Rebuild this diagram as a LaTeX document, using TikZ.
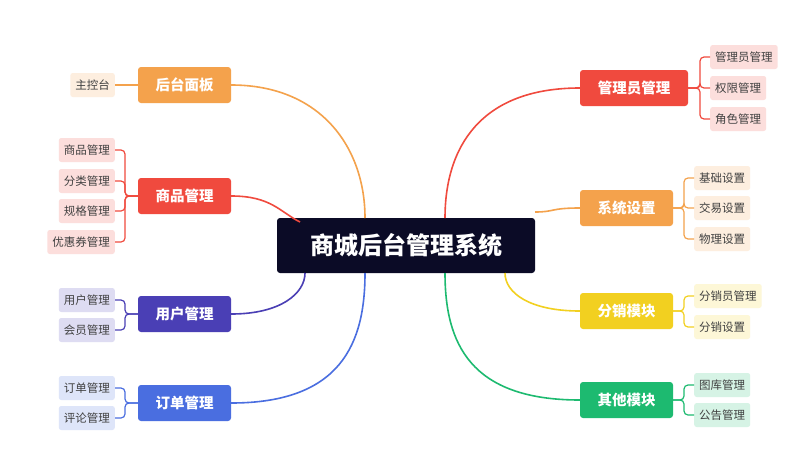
\documentclass[tikz,border=0pt]{standalone}
\usepackage{fontspec}
\newfontfamily\cjk{Noto Sans CJK SC}
\usetikzlibrary{calc}
\definecolor{cOr}{HTML}{F4A24C}
\definecolor{cRd}{HTML}{F04A3E}
\definecolor{cIn}{HTML}{4A3FB5}
\definecolor{cBl}{HTML}{4A6EE0}
\definecolor{cYe}{HTML}{F2D020}
\definecolor{cGr}{HTML}{1DBA70}
\definecolor{cNv}{HTML}{0B0B26}
\begin{document}
\begin{tikzpicture}[x=1pt,y=-1pt,
  parent/.style={fill=#1,rounded corners=3pt,minimum width=93pt,minimum height=36pt,inner sep=0pt,font=\cjk\fontsize{14.5}{16}\selectfont\bfseries,text=white},
  leaf/.style={fill=#1!18,rounded corners=2.5pt,minimum height=24pt,inner xsep=5pt,inner ysep=0pt,font=\cjk\fontsize{11.5}{13}\selectfont,text=black!75},
  link/.style={draw=#1,line width=1.6pt},
  br/.style={draw=#1,line width=1.2pt,rounded corners=4pt}]
\useasboundingbox (0,0) rectangle (799,474);
\fill[white] (0,0) rectangle (799,474);
\node[fill=cNv,rounded corners=3pt,minimum width=258pt,minimum height=55pt,font=\cjk\fontsize{24}{28}\selectfont\bfseries,text=white] (c) at (406,245.5) {商城后台管理系统};
\coordinate (cT1) at (365,218); \coordinate (cT2) at (300,222);
\coordinate (cB1) at (305,273); \coordinate (cB2) at (365,273);
\coordinate (cT3) at (445,218); \coordinate (cR) at (535,212);
\coordinate (cB3) at (505,273); \coordinate (cB4) at (445,273);
\coordinate (bL) at (125,0); \coordinate (bR) at (700,0);
\coordinate (bR2) at (684,0);
% left parents
\node[parent=cOr] (p1) at (184.5,85) {后台面板};
\node[parent=cRd] (p2) at (184.5,196) {商品管理};
\node[parent=cIn] (p3) at (184.5,314) {用户管理};
\node[parent=cBl] (p4) at (184.5,403) {订单管理};
% right parents
\node[parent=cRd,minimum width=108pt] (q1) at (634,88) {管理员管理};
\node[parent=cOr] (q2) at (626.5,208) {系统设置};
\node[parent=cYe] (q3) at (626.5,311) {分销模块};
\node[parent=cGr] (q4) at (626.5,400) {其他模块};
% main links
\draw[link=cOr] (p1.east) .. controls +(90,0) and +(0,-70) .. (cT1);
\draw[link=cRd] (p2.east) .. controls +(40,0) and +(-20,-10) .. (cT2);
\draw[link=cIn] (p3.east) .. controls +(50,0) and +(0,20) .. (cB1);
\draw[link=cBl] (p4.east) .. controls +(110,0) and +(0,70) .. (cB2);
\draw[link=cRd] (q1.west) .. controls +(-100,0) and +(0,-70) .. (cT3);
\draw[link=cOr] (q2.west) .. controls +(-30,0) and +(20,0) .. (cR);
\draw[link=cYe] (q3.west) .. controls +(-50,0) and +(0,20) .. (cB3);
\draw[link=cGr] (q4.west) .. controls +(-110,0) and +(0,70) .. (cB4);
% left leaves
\node[leaf=cOr,anchor=east] (l11) at (115,85) {主控台};
\draw[br=cOr] (p1.west) -- (l11.east);
\node[leaf=cRd,anchor=east] (l21) at (115,150) {商品管理};
\node[leaf=cRd,anchor=east] (l22) at (115,181) {分类管理};
\node[leaf=cRd,anchor=east] (l23) at (115,211) {规格管理};
\node[leaf=cRd,anchor=east] (l24) at (115,242) {优惠券管理};
\foreach \n in {l21,l22,l23,l24}{\draw[br=cRd] (p2.west) -- (p2.west -| bL) |- (\n.east);}
\node[leaf=cIn,anchor=east] (l31) at (115,300) {用户管理};
\node[leaf=cIn,anchor=east] (l32) at (115,330) {会员管理};
\foreach \n in {l31,l32}{\draw[br=cIn] (p3.west) -- (p3.west -| bL) |- (\n.east);}
\node[leaf=cBl,anchor=east] (l41) at (115,388) {订单管理};
\node[leaf=cBl,anchor=east] (l42) at (115,418) {评论管理};
\foreach \n in {l41,l42}{\draw[br=cBl] (p4.west) -- (p4.west -| bL) |- (\n.east);}
% right leaves
\node[leaf=cRd,anchor=west] (r11) at (710,57) {管理员管理};
\node[leaf=cRd,anchor=west] (r12) at (710,88) {权限管理};
\node[leaf=cRd,anchor=west] (r13) at (710,119) {角色管理};
\foreach \n in {r11,r12,r13}{\draw[br=cRd] (q1.east) -- (q1.east -| bR) |- (\n.west);}
\node[leaf=cOr,anchor=west] (r21) at (694,178) {基础设置};
\node[leaf=cOr,anchor=west] (r22) at (694,208) {交易设置};
\node[leaf=cOr,anchor=west] (r23) at (694,239) {物理设置};
\foreach \n in {r21,r22,r23}{\draw[br=cOr] (q2.east) -- (q2.east -| bR2) |- (\n.west);}
\node[leaf=cYe,anchor=west] (r31) at (694,296) {分销员管理};
\node[leaf=cYe,anchor=west] (r32) at (694,327) {分销设置};
\foreach \n in {r31,r32}{\draw[br=cYe] (q3.east) -- (q3.east -| bR2) |- (\n.west);}
\node[leaf=cGr,anchor=west] (r41) at (694,385) {图库管理};
\node[leaf=cGr,anchor=west] (r42) at (694,415) {公告管理};
\foreach \n in {r41,r42}{\draw[br=cGr] (q4.east) -- (q4.east -| bR2) |- (\n.west);}
\end{tikzpicture}
\end{document}
